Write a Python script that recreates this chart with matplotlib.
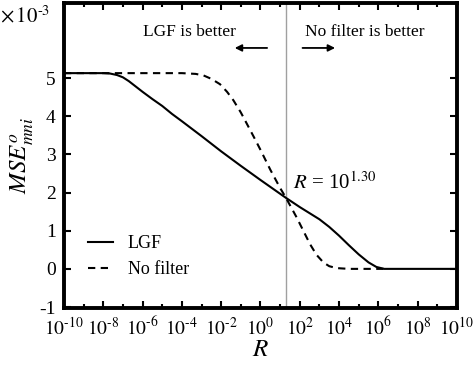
import matplotlib
matplotlib.use("Agg")
import matplotlib.pyplot as plt
import numpy as np
from matplotlib.ticker import FixedLocator, FuncFormatter, NullFormatter

plt.rcParams['font.family'] = ['Liberation Serif', 'DejaVu Serif']
plt.rcParams['mathtext.fontset'] = 'stix'
plt.rcParams['axes.unicode_minus'] = False

# values (log10 R, MSE x 1e-3)
lgf_logR = [-10, -8, -7.66, -7.3, -7.0, -6.7, -6.4, -6.0, -5.5, -5.0, -4.5,
            -4.0, -3.0, -2.0, -1.0, 0.0, 1.3, 2.0, 3.0, 3.5, 4.0, 4.5, 5.0,
            5.5, 5.9, 6.3, 10]
lgf_mse = [5.13, 5.13, 5.12, 5.08, 5.02, 4.92, 4.80, 4.64, 4.45, 4.27, 4.06,
           3.87, 3.48, 3.08, 2.70, 2.33, 1.86, 1.62, 1.30, 1.10, 0.87, 0.62,
           0.38, 0.17, 0.05, 0.0, 0.0]

nf_logR = [-10, -4, -3.3, -2.9, -2.5, -2.06, -1.7, -1.38, -1.0, -0.7, -0.3,
           0.0, 0.5, 1.0, 1.3, 1.84, 2.2, 2.52, 2.85, 3.2, 3.5, 3.88, 4.5, 6.4]
nf_mse = [5.13, 5.13, 5.11, 5.07, 4.98, 4.84, 4.64, 4.42, 4.10, 3.81, 3.42,
          3.12, 2.60, 2.12, 1.86, 1.35, 0.98, 0.65, 0.37, 0.17, 0.07, 0.02,
          0.0, 0.0]

cross_logR = 1.30

x_major = [10.0**k for k in range(-10, 11, 2)]
x_minor = [10.0**k for k in range(-9, 10, 2)]
y_ticks = [-1, 0, 1, 2, 3, 4, 5]


def decade_label(v, pos):
    k = int(round(np.log10(v)))
    if k < 0:
        return r'$10^{\text{-}%d}$' % (-k)
    return r'$10^{%d}$' % k


def main():
    fig = plt.figure(figsize=(4.74, 3.66), dpi=100)
    ax = fig.add_axes([0.135, 0.158, 0.829, 0.834])

    ax.plot(10.0**np.array(nf_logR), nf_mse, color='black', lw=1.5,
            linestyle=(0, (3.5, 2.6)), label='No filter')
    ax.plot(10.0**np.array(lgf_logR), lgf_mse, color='black', lw=1.5,
            label='LGF')
    ax.axvline(10.0**cross_logR, color='#a0a0a0', lw=1.0, zorder=0)

    ax.set_xscale('log')
    ax.set_xlim(1e-10, 1e10)
    ax.set_ylim(-1.03, 6.97)

    ax.xaxis.set_major_locator(FixedLocator(x_major))
    ax.xaxis.set_minor_locator(FixedLocator(x_minor))
    ax.xaxis.set_major_formatter(FuncFormatter(decade_label))
    ax.xaxis.set_minor_formatter(NullFormatter())
    ax.set_yticks(y_ticks)
    ax.set_yticklabels([str(t) for t in y_ticks])

    ax.tick_params(which='both', direction='in', top=True, right=True,
                   labelsize=14)
    ax.tick_params(axis='x', pad=6)
    ax.tick_params(axis='y', pad=6)
    ax.tick_params(which='major', length=5, width=1.5)
    ax.tick_params(which='minor', length=3, width=1.5)
    for s in ax.spines.values():
        s.set_linewidth(2.8)

    ax.set_xlabel(r'$R$', fontsize=18, labelpad=0)
    ax.set_ylabel(r'$MSE^{o}_{mni}$', fontsize=18, labelpad=2)
    fig.text(0.0, 0.955, r'$\times\,10^{\text{-}3}$', fontsize=15,
             ha='left', va='center')

    ax.text(10.0**(-3.6), 6.21, 'LGF is better', fontsize=12.5,
            ha='center', va='center')
    ax.annotate('', xy=(10.0**(-1.45), 5.79), xytext=(10.0**0.48, 5.79),
                arrowprops=dict(arrowstyle='-|>', color='black', lw=1.3,
                                mutation_scale=10))
    ax.text(10.0**(5.3), 6.21, 'No filter is better', fontsize=12.5,
            ha='center', va='center')
    ax.annotate('', xy=(10.0**3.94, 5.79), xytext=(10.0**2.0, 5.79),
                arrowprops=dict(arrowstyle='-|>', color='black', lw=1.3,
                                mutation_scale=10))
    ax.text(10.0**1.65, 2.25, r'$R$ = 10$^{1.30}$', fontsize=15,
            ha='left', va='center')

    handles, labels = ax.get_legend_handles_labels()
    ax.legend(handles[::-1], labels[::-1], loc='lower left', frameon=False,
              fontsize=13, handlelength=1.4, bbox_to_anchor=(0.02, 0.044),
              labelspacing=0.5)

    fig.savefig('out.png', dpi=100)


if __name__ == "__main__":
    main()
